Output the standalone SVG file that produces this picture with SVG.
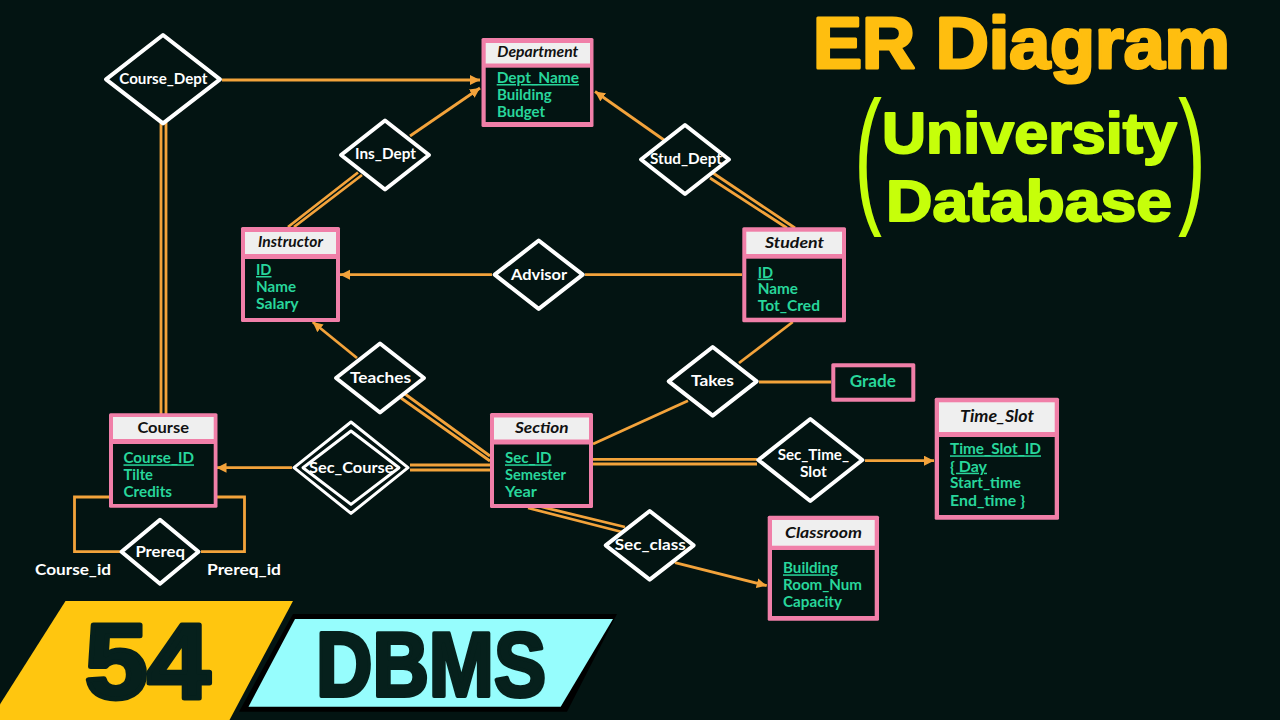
<svg xmlns="http://www.w3.org/2000/svg" width="1280" height="720" viewBox="0 0 1280 720">
<defs>
<marker id="arr" markerUnits="userSpaceOnUse" markerWidth="11" markerHeight="11" refX="10" refY="5" orient="auto"><path d="M0 0L10 5L0 10Z" fill="#f3a33b"/></marker>
</defs>
<style>
text{font-family:"Lato","Open Sans",sans-serif}
.c{fill:none;stroke:#f3a33b;stroke-width:2.8}
.a{marker-end:url(#arr)}
.box{fill:#f07fa8}
.hd{fill:#efefef}
.bd{fill:#031412}
.t{fill:#111;font-size:15px;font-weight:700;font-style:italic}
.n{fill:#111;font-size:15px;font-weight:700}
.f{fill:#28d69b;font-size:15px;font-weight:700}
.u{text-decoration:underline}
.d{fill:#031412;stroke:#fff;stroke-width:4;stroke-linejoin:round}
.l{fill:#fff;font-size:15px;font-weight:700}
.bg1{fill:#ffc60f}
.bg2{fill:#96fdfd}
.h{font-family:"Liberation Sans",Arial,sans-serif;font-weight:700;stroke-linejoin:round}
.lime{fill:#c6ff0a;stroke:#c6ff0a;stroke-width:2}
.ink{fill:#06201c;stroke:#06201c}
.par{font-family:"Liberation Sans",Arial,sans-serif;font-size:150px;fill:#c6ff0a}
</style>
<rect width="1280" height="720" fill="#031412"/>
<g id="connectors">
<path class="c a" d="M222 80H480"/>
<path class="c a" d="M410 136L480 88"/>
<path class="c" d="M358 172.5L288 227M362 175L294 227"/>
<path class="c" d="M161 122V414M166 122V414"/>
<path class="c a" d="M492 274.7H340"/>
<path class="c" d="M585 274.7H742"/>
<path class="c a" d="M664 140L595 91.5"/>
<path class="c" d="M710 178L787 228M713 173L795 228"/>
<path class="c a" d="M357 358L312.7 322"/>
<path class="c" d="M405 394L490 456M401 398L490 461"/>
<path class="c a" d="M292 467.7H216.5"/>
<path class="c" d="M410 465H490M410 470H490"/>
<path class="c" d="M593 444L688 400.7"/>
<path class="c" d="M739 363L792.7 322"/>
<path class="c" d="M759 382H831"/>
<path class="c" d="M593 459.3H757M593 464H757"/>
<path class="c a" d="M865 460.7H934"/>
<path class="c" d="M538 506L625 527M528 508L622 532"/>
<path class="c a" d="M675 562.7L766.7 585.7"/>
<path class="c" d="M109 497H74.500V551.700H120"/>
<path class="c" d="M217 497H244.500V551.700H201"/>
</g>
<g id="title">
<text class="h" x="813" y="68" font-size="72" fill="#ffbe0f" stroke="#ffbe0f" stroke-width="3" textLength="417" lengthAdjust="spacingAndGlyphs">ER Diagram</text>
<text class="h lime" x="882" y="152.500" font-size="58" textLength="295" lengthAdjust="spacingAndGlyphs">University</text>
<text class="h lime" x="886" y="221" font-size="58" textLength="286" lengthAdjust="spacingAndGlyphs">Database</text>
<text class="par" transform="translate(854 206) scale(.56 1)">(</text>
<text class="par" transform="translate(1178 206) scale(.56 1)">)</text>
</g>
<g id="Department">
<rect class="box" x="481.500" y="38" width="112" height="89" rx="1.500"/><rect class="hd" x="485.700" y="43" width="104.300" height="20.500"/><rect class="bd" x="485.700" y="67.700" width="104.300" height="54.300"/>
<text class="t" x="497.300" y="56.700" textLength="81" lengthAdjust="spacingAndGlyphs">Department</text>
<text class="f u" x="496.700" y="83" textLength="82.300" lengthAdjust="spacingAndGlyphs">Dept_Name</text>
<text class="f" x="497" y="100" textLength="54.700" lengthAdjust="spacingAndGlyphs">Building</text>
<text class="f" x="497" y="117" textLength="48" lengthAdjust="spacingAndGlyphs">Budget</text>
</g>
<g id="Instructor">
<rect class="box" x="241" y="227" width="99" height="95" rx="1.500"/><rect class="hd" x="245" y="232" width="91" height="22"/><rect class="bd" x="245" y="259" width="91" height="59"/>
<text class="t" x="258" y="246.700" textLength="65" lengthAdjust="spacingAndGlyphs">Instructor</text>
<text class="f u" x="256" y="275" textLength="15.500" lengthAdjust="spacingAndGlyphs">ID</text>
<text class="f" x="256" y="292" textLength="40" lengthAdjust="spacingAndGlyphs">Name</text>
<text class="f" x="256" y="309" textLength="42.700" lengthAdjust="spacingAndGlyphs">Salary</text>
</g>
<g id="Student">
<rect class="box" x="742.300" y="227.300" width="103.700" height="95" rx="1.500"/><rect class="hd" x="746.300" y="231.700" width="95.700" height="22.300"/><rect class="bd" x="746.300" y="258.700" width="95.700" height="59"/>
<text class="t" x="765" y="248" style="font-size:16px" textLength="59" lengthAdjust="spacingAndGlyphs">Student</text>
<text class="f u" x="757.700" y="277.700" textLength="15.300" lengthAdjust="spacingAndGlyphs">ID</text>
<text class="f" x="757.700" y="294" textLength="40.300" lengthAdjust="spacingAndGlyphs">Name</text>
<text class="f" x="757.700" y="311" textLength="62.300" lengthAdjust="spacingAndGlyphs">Tot_Cred</text>
</g>
<g id="Grade">
<rect class="box" x="831.300" y="363.300" width="84" height="38.400" rx="1.500"/><rect class="bd" x="835.300" y="367.300" width="76" height="30.400"/>
<text class="f" x="849.700" y="386.700" style="font-size:17px" textLength="46.300" lengthAdjust="spacingAndGlyphs">Grade</text>
</g>
<g id="Time_Slot">
<rect class="box" x="934.700" y="397.700" width="124.300" height="122" rx="1.500"/><rect class="hd" x="939" y="402.300" width="115.700" height="29.700"/><rect class="bd" x="939" y="437" width="115.700" height="78"/>
<text class="t" x="960" y="422.300" style="font-size:17px" textLength="74" lengthAdjust="spacingAndGlyphs">Time_Slot</text>
<text class="f u" x="950" y="454.300" textLength="91" lengthAdjust="spacingAndGlyphs">Time_Slot_ID</text>
<text class="f u" x="950" y="471.700" textLength="37" lengthAdjust="spacingAndGlyphs">{ Day</text>
<text class="f" x="950" y="488.300" textLength="71" lengthAdjust="spacingAndGlyphs">Start_time</text>
<text class="f" x="950" y="505.700" textLength="75" lengthAdjust="spacingAndGlyphs">End_time }</text>
</g>
<g id="Classroom">
<rect class="box" x="767.700" y="515.700" width="111.300" height="105" rx="1.500"/><rect class="hd" x="772" y="520" width="102.700" height="25.700"/><rect class="bd" x="772" y="550" width="102.700" height="66"/>
<text class="t" x="785" y="538.300" style="font-size:16px" textLength="77" lengthAdjust="spacingAndGlyphs">Classroom</text>
<text class="f u" x="783" y="573.300" textLength="55" lengthAdjust="spacingAndGlyphs">Building</text>
<text class="f" x="783" y="590" textLength="79" lengthAdjust="spacingAndGlyphs">Room_Num</text>
<text class="f" x="783" y="606.700" textLength="59" lengthAdjust="spacingAndGlyphs">Capacity</text>
</g>
<g id="Course">
<rect class="box" x="109" y="413.300" width="108.500" height="94.400" rx="1.500"/><rect class="hd" x="113" y="417" width="100.700" height="22"/><rect class="bd" x="113" y="444" width="100.700" height="60"/>
<text class="n" x="137.400" y="433.300" textLength="51.600" lengthAdjust="spacingAndGlyphs">Course</text>
<text class="f u" x="123.500" y="463.300" textLength="70.500" lengthAdjust="spacingAndGlyphs">Course_ID</text>
<text class="f" x="123.500" y="480" textLength="29.500" lengthAdjust="spacingAndGlyphs">Tilte</text>
<text class="f" x="123.500" y="496.700" textLength="48.500" lengthAdjust="spacingAndGlyphs">Credits</text>
</g>
<g id="Section">
<rect class="box" x="490" y="413" width="103" height="95" rx="1.500"/><rect class="hd" x="494" y="417.500" width="95" height="22"/><rect class="bd" x="494" y="444.500" width="95" height="59.500"/>
<text class="t" x="515" y="433.300" textLength="53.600" lengthAdjust="spacingAndGlyphs">Section</text>
<text class="f u" x="505" y="463.300" textLength="46.600" lengthAdjust="spacingAndGlyphs">Sec_ID</text>
<text class="f" x="505" y="480.300" textLength="61" lengthAdjust="spacingAndGlyphs">Semester</text>
<text class="f" x="505" y="497" textLength="32" lengthAdjust="spacingAndGlyphs">Year</text>
</g>
<g id="Course_Dept"><path class="d" d="M163 35L220 79.300L163 123.400L106 79.300Z"/><text class="l" x="119.300" y="83.500" textLength="88.200" lengthAdjust="spacingAndGlyphs">Course_Dept</text></g>
<g id="Ins_Dept"><path class="d" d="M385 120.500L429 155L385 189.500L341 155Z"/><text class="l" x="355" y="158.500" textLength="61" lengthAdjust="spacingAndGlyphs">Ins_Dept</text></g>
<g id="Stud_Dept"><path class="d" d="M685 125L729 159.500L685 194L641 159.500Z"/><text class="l" x="650" y="164" textLength="72" lengthAdjust="spacingAndGlyphs">Stud_Dept</text></g>
<g id="Advisor"><path class="d" d="M538.700 240.500L582.700 274.700L538.700 308.900L494.700 274.700Z"/><text class="l" x="511" y="279.500" style="font-size:16px" textLength="56" lengthAdjust="spacingAndGlyphs">Advisor</text></g>
<g id="Teaches"><path class="d" d="M380 343.500L424 378L380 412.500L336 378Z"/><text class="l" x="350" y="383" style="font-size:16px" textLength="61" lengthAdjust="spacingAndGlyphs">Teaches</text></g>
<g id="Takes"><path class="d" d="M712.700 347L756.700 381.300L712.700 415.600L668.700 381.300Z"/><text class="l" x="691" y="386" style="font-size:16px" textLength="43" lengthAdjust="spacingAndGlyphs">Takes</text></g>
<g id="Sec_Time_Slot"><path class="d" d="M810.300 419L862.300 460L810.300 501L758.300 460Z"/><text class="l" x="777.700" y="460" textLength="71.300" lengthAdjust="spacingAndGlyphs">Sec_Time_</text><text class="l" x="800" y="477" textLength="26.700" lengthAdjust="spacingAndGlyphs">Slot</text></g>
<g id="Sec_class"><path class="d" d="M649.700 511L693.700 545.300L649.700 579.600L605.700 545.300Z"/><text class="l" x="614.700" y="550" textLength="71" lengthAdjust="spacingAndGlyphs">Sec_class</text></g>
<g id="Sec_Course"><path class="d" d="M351 422L408 467.700L351 513.400L294 467.700Z" style="stroke-width:3"/><path class="d" d="M351 431L399 467.700L351 504.400L303 467.700Z" style="stroke-width:3"/><text class="l" x="309" y="472.700" textLength="84.500" lengthAdjust="spacingAndGlyphs">Sec_Course</text></g>
<g id="Prereq"><path class="d" d="M160 519.700L198.500 551.700L160 583.700L121.500 551.700Z"/><text class="l" x="135.400" y="556.700" textLength="49.600" lengthAdjust="spacingAndGlyphs">Prereq</text></g>
<text class="l" x="35" y="575" textLength="76" lengthAdjust="spacingAndGlyphs">Course_id</text>
<text class="l" x="207" y="575" textLength="74" lengthAdjust="spacingAndGlyphs">Prereq_id</text>
<g id="badge">
<polygon class="bg1" points="65.500,601 293,601 229.500,720 -10,720"/>
<polygon fill="#000" points="293,614 617,614 567,711.700 239,711.700"/>
<polygon class="bg2" points="295,619 613,619 560.700,706.700 248.500,706.700"/>
<text class="h ink" x="85" y="697.500" font-size="105" stroke-width="5" textLength="125" lengthAdjust="spacingAndGlyphs">54</text>
<text class="h ink" x="316" y="696" font-size="90" stroke-width="4" textLength="230" lengthAdjust="spacingAndGlyphs">DBMS</text>
</g>
</svg>
